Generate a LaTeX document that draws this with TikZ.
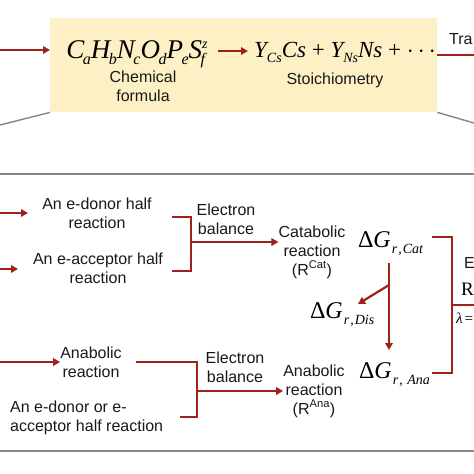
\documentclass[tikz,border=0pt]{standalone}
\usepackage{fontspec}
\setmainfont{Liberation Sans}
\newfontfamily\tms{Liberation Serif}
\usetikzlibrary{arrows.meta}
\definecolor{dred}{rgb}{0.62,0.13,0.11}
\definecolor{ybox}{rgb}{0.99,0.94,0.77}
\definecolor{gline}{rgb}{0.52,0.53,0.53}
\definecolor{txtc}{rgb}{0.1,0.1,0.1}
% subscripts / superscripts for the big formulas
\newcommand\fsub[1]{\kern-1.5pt\raisebox{-6pt}{\fontsize{16}{16}\selectfont #1}}
\newcommand\fsup[1]{\raisebox{10pt}{\fontsize{14}{14}\selectfont #1}}
\newcommand\ysub[1]{\raisebox{-5pt}{\fontsize{14}{14}\selectfont #1}}
\newcommand\gsub[1]{\raisebox{-6pt}{\fontsize{14}{14}\selectfont #1}}
\newcommand\dG[1]{{\fontsize{24}{24}\selectfont\tms $\!$\char"0394\itshape G\kern1pt\gsub{#1}}}
\begin{document}
\begin{tikzpicture}[x=1pt,y=-1pt,
  txt/.style={font=\fontsize{16}{19}\selectfont, text=txtc, align=center, inner sep=0pt},
  frm/.style={inner sep=0pt, text=black},
  arr/.style={draw=dred, line width=2.2pt, -{Triangle[length=7pt,width=7.5pt]}},
  brk/.style={draw=dred, line width=2.2pt},
  gl/.style={draw=gline, line width=1.4pt}]
\useasboundingbox (0,0) rectangle (474,474);
\fill[white] (0,0) rectangle (474,474);

% ---------- top section ----------
\node[fill=ybox, minimum width=387pt, minimum height=94pt, anchor=north west, inner sep=0pt] (box) at (50,18) {};
\node[frm, anchor=base] (chem) at (137,58)
  {\fontsize{27}{27}\selectfont\tms\itshape C\fsub{a}H\fsub{b}N\fsub{c}O\fsub{d}P\fsub{e}S\fsub{f}\kern-3pt\fsup{z}};
\node[txt] (chemlbl) at (143,86) {Chemical\\formula};
\node[frm, anchor=base west] (stoi) at (254,57)
  {\fontsize{23}{23}\selectfont\tms\itshape Y\ysub{Cs}Cs\upshape\ +\ \itshape Y\ysub{Ns}Ns\upshape\ +\ $\cdots$};
\node[txt] (stlbl) at (335,80) {Stoichiometry};
\node[txt, anchor=west] (tra) at (449,39) {Tra};

\coordinate (inTop) at (0,50);
\draw[arr] (inTop) -- (inTop -| box.west);
\coordinate (a1s) at (218,51);
\coordinate (a1e) at (248,51);
\draw[arr] (a1s) -- (a1e);
\coordinate (outTop) at (474,55);
\draw[brk] (outTop -| box.east) -- (outTop);

\coordinate (gL) at (0,125);
\coordinate (gR) at (474,123);
\draw[gl] (gL) -- (box.south west);
\draw[gl] (box.south east) -- (gR);
\coordinate (h1a) at (0,174); \coordinate (h1b) at (474,174);
\draw[gl] (h1a) -- (h1b);
\coordinate (h2a) at (0,451); \coordinate (h2b) at (474,451);
\draw[gl] (h2a) -- (h2b);

% ---------- middle section ----------
\node[txt] (don) at (97,213) {An e-donor half\\reaction};
\node[txt] (acc) at (98,268.5) {An e-acceptor half\\reaction};
\coordinate (in1) at (0,213);
\coordinate (in1e) at (28,213);
\draw[arr] (in1) -- (in1e);
\coordinate (in2) at (0,269);
\coordinate (in2e) at (18,269);
\draw[arr] (in2) -- (in2e);

\coordinate (b1t) at (172,217);
\coordinate (b1b) at (172,271);
\coordinate (b1m) at (191,242);
\draw[brk] (b1t) -- (191,217) -- (191,271) -- (b1b);
\node[txt] (eb1) at (226,219) {Electron\\balance};
\node[txt] (cat) at (312,252) {Catabolic\\reaction\\(R\textsuperscript{Cat})};
\draw[arr] (b1m) -- (cat.west |- b1m);

\node[frm, anchor=base west] (gcat) at (362,247) {\dG{r\kern1pt,\kern1pt Cat}};
\node[frm, anchor=base west] (gdis) at (314,318) {\dG{r\kern1pt,\kern1pt Dis}};
\node[frm, anchor=base west] (gana) at (363,378) {\dG{r\kern1pt, \kern1pt Ana}};

\coordinate (vt) at (389,263);
\coordinate (vb) at (389,350);
\coordinate (vm) at (389,285);
\coordinate (dtip) at (358,304);
\draw[arr] (vt) -- (vb);
\draw[arr] (vm) -- (dtip);

\coordinate (b2t) at (432,237);
\coordinate (b2b) at (432,373);
\coordinate (b2m) at (452,305);
\coordinate (b2o) at (474,305);
\draw[brk] (b2t) -- (452,237) -- (452,373) -- (b2b);
\draw[brk] (b2m) -- (b2o);
\node[txt, anchor=west] (eE) at (464,263) {E};
\node[frm, anchor=west] (eR) at (461,289) {\fontsize{19}{19}\selectfont\tms R};
\node[frm, anchor=west] (lam) at (456,318) {\fontsize{15}{15}\selectfont\tms\itshape λ\upshape\kern2pt=};

% ---------- bottom section ----------
\node[txt] (ana) at (91,362.5) {Anabolic\\reaction};
\coordinate (in3) at (0,362);
\draw[arr] (in3) -- (in3 -| ana.west);
\node[txt, align=left, anchor=west] (dor) at (10,418) {An e-donor or e-\\acceptor half reaction};

\coordinate (b3t) at (136,362);
\coordinate (b3b) at (180,417);
\coordinate (b3m) at (197,391);
\draw[brk] (b3t) -- (197,362) -- (197,417) -- (b3b);
\node[txt] (eb2) at (235,367.5) {Electron\\balance};
\node[txt] (anar) at (314,391) {Anabolic\\reaction\\(R\textsuperscript{Ana})};
\draw[arr] (b3m) -- (anar.west |- b3m);
\end{tikzpicture}
\end{document}
